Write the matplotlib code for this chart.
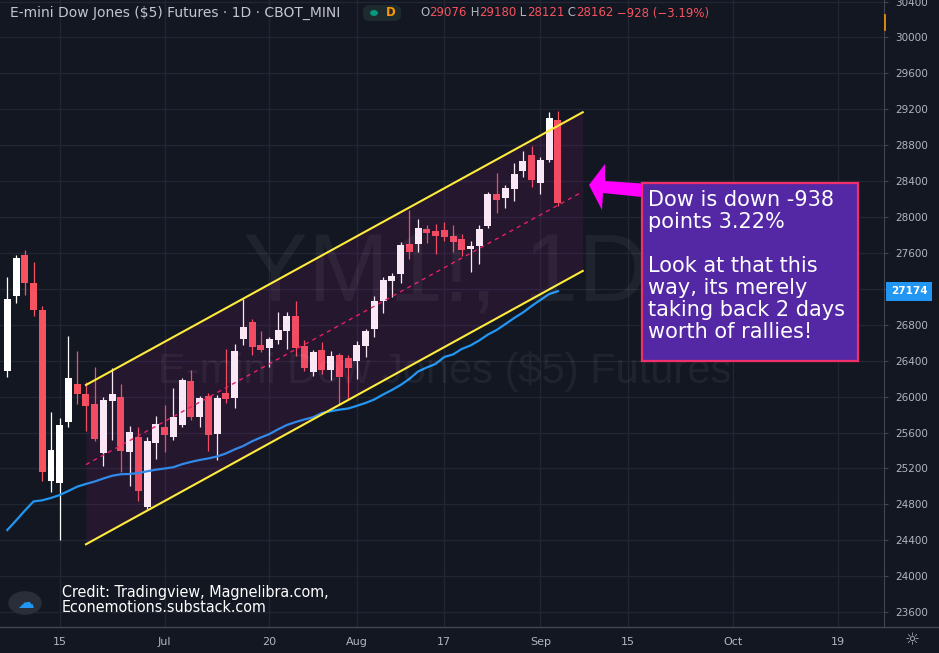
import matplotlib
matplotlib.use('Agg')
import matplotlib.pyplot as plt
import matplotlib.transforms as mtransforms
from matplotlib.patches import Rectangle, Polygon, Circle, FancyBboxPatch
import numpy as np

# daily bars, Jun 5 .. Sep 3 2020 (bar index on the x axis)
opens = [26289, 27124, 27578, 27266, 26965, 25064, 25042, 25721, 26141, 26030,
         25918, 25376, 25955, 25996, 25387, 25551, 24771, 25487, 25662, 25554,
         25685, 26175, 25777, 26011, 25588, 26041, 25989, 26646, 26832, 26576,
         26545, 26634, 26735, 26898, 26564, 26278, 26520, 26297, 26464, 26431,
         26401, 26564, 26754, 27065, 27292, 27366, 27700, 27700, 27867, 27845,
         27856, 27789, 27756, 27648, 27678, 27901, 28257, 28216, 28316, 28516,
         28691, 28383, 28636, 29076]
highs = [27329, 27578, 27633, 27500, 27010, 25829, 25759, 26676, 26509, 26163,
         26330, 26000, 26316, 26141, 25674, 25662, 25554, 25785, 25907, 26100,
         26211, 26297, 26011, 26044, 26019, 26531, 26587, 27088, 26868, 26731,
         26668, 26943, 26943, 27065, 26631, 26520, 26609, 26509, 26486, 26467,
         26620, 26757, 27121, 27329, 27377, 27726, 28079, 27979, 27912, 27920,
         27942, 27912, 27812, 27737, 27908, 28283, 28491, 28357, 28606, 28736,
         28792, 28666, 29167, 29180]
lows = [26216, 27040, 27132, 26902, 25064, 24942, 24407, 25666, 25922, 25621,
        25510, 25231, 25518, 25165, 25009, 24842, 24749, 25309, 25387, 25518,
        25666, 25744, 25666, 25398, 25298, 25924, 25877, 26579, 26468, 26501,
        26334, 26590, 26534, 26456, 26289, 26234, 26256, 26189, 25911, 25963,
        26200, 26445, 26668, 26928, 27113, 27269, 27537, 27611, 27715, 27592,
        27737, 27614, 27570, 27392, 27481, 27882, 28049, 28104, 28182, 28450,
        28338, 28260, 28613, 28121]
closes = [27088, 27544, 27269, 26969, 25165, 25406, 25685, 26208, 26033, 25900,
          25532, 25963, 26030, 25398, 25607, 24953, 25506, 25692, 25577, 25774,
          26186, 25777, 25985, 25577, 25989, 25977, 26509, 26776, 26557, 26523,
          26642, 26742, 26898, 26545, 26323, 26498, 26297, 26453, 26222, 26323,
          26576, 26735, 27065, 27299, 27344, 27689, 27614, 27878, 27826, 27793,
          27782, 27722, 27637, 27678, 27867, 28257, 28194, 28320, 28480, 28624,
          28416, 28632, 29103, 28162]
ma_line = [24515, 24621, 24730, 24833, 24846, 24872, 24905, 24950, 24998, 25028,
           25055, 25089, 25119, 25136, 25139, 25150, 25169, 25187, 25200, 25214,
           25248, 25273, 25295, 25312, 25334, 25367, 25412, 25451, 25503, 25545,
           25584, 25637, 25685, 25718, 25746, 25771, 25818, 25838, 25855, 25868,
           25898, 25930, 25969, 26024, 26074, 26130, 26197, 26280, 26325, 26364,
           26442, 26470, 26531, 26570, 26626, 26692, 26743, 26809, 26876, 26937,
           27010, 27077, 27143, 27174]

date_ticks = [6, 18, 30, 40, 50, 61, 71, 83, 95]
date_labels = ['15', 'Jul', '20', 'Aug', '17', 'Sep', '15', 'Oct', '19']
price_ticks = list(range(23600, 30401, 400))
# 27200 sits under the MA value tag on the scale
price_labels = ['' if p == 27200 else str(p) for p in price_ticks]

# parallel channel drawn on the chart (bar index, price)
chan_x = [9.0, 65.84]
chan_upper = [26130, 29167]
chan_lower = [24356, 27400]

BG = '#131722'
W, H = 939, 653


def px(x, y):
    return x / W, 1 - y / H


fig = plt.figure(figsize=(W / 100, H / 100), dpi=100, facecolor=BG)
ax = fig.add_axes([0, 26 / H, 884 / W, 627 / H], facecolor=BG)
ax.set_xlim(-0.835, 100.31)
ax.set_ylim(23435, 30417)

# watermark
fig.text(*px(446, 300), 'YM1!, 1D', fontsize=70, family='Liberation Sans',
         color='#ffffff', alpha=0.055, ha='center', va='baseline', zorder=0)
fig.text(*px(445, 383), 'E-mini Dow Jones ($5) Futures', fontsize=30,
         family='Liberation Sans', color='#ffffff', alpha=0.055,
         ha='center', va='baseline', zorder=0)

ax.set_xticks(date_ticks)
ax.set_xticklabels(date_labels)
ax.set_yticks(price_ticks)
ax.set_yticklabels(price_labels)
ax.yaxis.tick_right()
ax.tick_params(axis='y', colors='#434651', labelcolor='#b2b5be', labelsize=7.5,
               length=3, pad=5)
ax.tick_params(axis='x', colors='#434651', labelcolor='#b2b5be', labelsize=8,
               length=0, pad=7)
ax.grid(color='#222633', lw=1)
ax.set_axisbelow(True)
for s in ['top', 'left', 'bottom']:
    ax.spines[s].set_visible(False)
ax.spines['right'].set_color('#434651')

# candles
idx = np.arange(len(opens))
o = np.array(opens)
c = np.array(closes)
cols = np.where(c >= o, '#ffffff', '#f7525f')
ax.vlines(idx, lows, highs, colors=cols, lw=0.9, zorder=3)
ax.bar(idx, np.maximum(np.abs(c - o), 8), bottom=np.minimum(o, c), width=0.8,
       color=cols, lw=0, zorder=4)

ax.plot(idx, ma_line, color='#2196f3', lw=1.6, zorder=5)

# channel
mid = [(a + b) / 2 for a, b in zip(chan_upper, chan_lower)]
ax.fill_between(chan_x, chan_lower, chan_upper, color='#c81aa0', alpha=0.1,
                lw=0, zorder=6)
ax.plot(chan_x, chan_upper, color='#ffeb3b', lw=1.5, zorder=7)
ax.plot(chan_x, chan_lower, color='#ffeb3b', lw=1.5, zorder=7)
ax.plot(chan_x, mid, color='#e91e63', lw=1, dashes=(3, 3), zorder=7)

# axis frame lines
fig.add_artist(plt.Line2D([0, 1], [26 / H, 26 / H], color='#434651', lw=1))
fig.add_artist(plt.Line2D([885 / W, 885 / W], [1 - 15 / H, 1 - 30 / H],
                          color='#ff9800', lw=1.2))

# MA value tag on the price scale
trans = mtransforms.blended_transform_factory(ax.transAxes, ax.transData)
ax.text(1.0 + 25 / 884, ma_line[-1], f'{ma_line[-1]}', transform=trans,
        ha='center', va='center', fontsize=7.5, fontweight='bold', color='white',
        clip_on=False, zorder=10,
        bbox=dict(boxstyle='square,pad=0.45', fc='#2196f3', ec='none'))

# header
ax.annotate('E-mini Dow Jones ($5) Futures · 1D · CBOT_MINI', xy=px(10, 13),
            xycoords='figure fraction', va='center', ha='left',
            fontsize=10, color='#c3c6ce', annotation_clip=False)
badge = FancyBboxPatch(px(363, 21), 38 / W, 16 / H,
                       boxstyle='round,pad=0,rounding_size=0.008',
                       transform=fig.transFigure, fc='#1d2a2e', ec='none')
fig.add_artist(badge)
fig.add_artist(Circle(px(374, 13), 3.2 / W, transform=fig.transFigure,
                      color='#089981'))
fig.text(*px(391, 13), 'D', color='#ff9800', fontsize=8.5, fontweight='bold',
         ha='center', va='center')

parts = [('O', '#b2b5be'), ('29076', '#f7525f'), (' H', '#b2b5be'),
         ('29180', '#f7525f'), (' L', '#b2b5be'), ('28121', '#f7525f'),
         (' C', '#b2b5be'), ('28162', '#f7525f'),
         (' −928 (−3.19%)', '#f7525f')]
t = ax.annotate(parts[0][0], xy=px(420, 13), xycoords='figure fraction',
                va='center', ha='left', fontsize=8.5, color=parts[0][1],
                annotation_clip=False)
for s, col in parts[1:]:
    t = ax.annotate(s, xy=(1, 0), xycoords=t, va='bottom', ha='left',
                    fontsize=8.5, color=col, annotation_clip=False)

# call-out
fig.add_artist(Rectangle(px(642, 361), 216 / W, 178 / H,
                         transform=fig.transFigure, fc='#5428a4',
                         ec='#f0306a', lw=1.6))
arrow = [(589, 185), (605, 164), (605, 181), (642, 183.5), (642, 197),
         (603, 193), (602, 210)]
fig.add_artist(Polygon([px(x, y) for x, y in arrow], closed=True,
                       transform=fig.transFigure, fc='#ff00ff', ec='none'))
fig.text(*px(648, 190),
         'Dow is down -938\npoints 3.22%\n\nLook at that this\nway, its merely\n'
         'taking back 2 days\nworth of rallies!',
         color='white', fontsize=15, ha='left', va='top', linespacing=1.13)

# credit
fig.add_artist(Circle(px(25, 603), 16 / W, transform=fig.transFigure,
                      color='#2a2e39'))
fig.text(*px(25, 603), '☁', color='#2196f3', fontsize=12, ha='center',
         va='center')
fig.text(*px(62, 600), 'Credit: Tradingview, Magnelibra.com,\nEconemotions.substack.com',
         color='white', fontsize=11.5, family='DejaVu Sans', fontstretch='condensed',
         ha='left', va='center', linespacing=1.0)

fig.text(*px(912, 640), '☼', color='#b2b5be', fontsize=12, ha='center',
         va='center')

fig.savefig('out.png', dpi=100, facecolor=BG)
